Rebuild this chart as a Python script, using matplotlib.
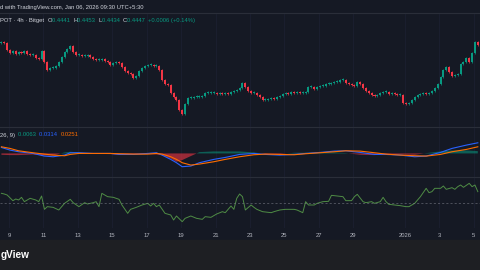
"""TradingView tarzı 4 saatlik mum grafiği + MACD + RSI (kırpılmış ekran görüntüsü)."""

import matplotlib

matplotlib.use("Agg")

import matplotlib.pyplot as plt
import numpy as np
import pandas as pd

plt.rcParams["font.family"] = ["Liberation Sans", "DejaVu Sans"]

# --- veriler ----------------------------------------------------------------
START = pd.Timestamp("2025-12-08 13:30")  # ilk mumun açılış zamanı (UTC+5:30)
BAR_HOURS = 4

first_open = 0.447
closes = [
    0.448, 0.447, 0.440, 0.437, 0.439, 0.436, 0.438, 0.437, 0.439, 0.436,
    0.435, 0.435, 0.432, 0.431, 0.439, 0.428, 0.420, 0.422, 0.422, 0.424,
    0.428, 0.433, 0.438, 0.441, 0.444, 0.438, 0.435, 0.435, 0.434, 0.434,
    0.435, 0.433, 0.431, 0.430, 0.430, 0.431, 0.429, 0.428, 0.425, 0.427,
    0.428, 0.427, 0.423, 0.419, 0.417, 0.416, 0.412, 0.414, 0.419, 0.422,
    0.424, 0.425, 0.425, 0.424, 0.424, 0.420, 0.410, 0.406, 0.405, 0.397,
    0.393, 0.390, 0.380, 0.376, 0.386, 0.392, 0.392, 0.393, 0.393, 0.393,
    0.394, 0.397, 0.397, 0.397, 0.397, 0.396, 0.397, 0.396, 0.397, 0.396,
    0.398, 0.399, 0.400, 0.402, 0.407, 0.403, 0.399, 0.397, 0.397, 0.395,
    0.393, 0.390, 0.390, 0.391, 0.392, 0.391, 0.393, 0.394, 0.396, 0.397,
    0.396, 0.398, 0.397, 0.398, 0.397, 0.397, 0.398, 0.403, 0.403, 0.401,
    0.403, 0.404, 0.404, 0.406, 0.406, 0.407, 0.408, 0.408, 0.410, 0.410,
    0.407, 0.406, 0.405, 0.404, 0.408, 0.406, 0.402, 0.399, 0.397, 0.395,
    0.394, 0.395, 0.397, 0.398, 0.398, 0.396, 0.397, 0.396, 0.395, 0.395,
    0.387, 0.386, 0.387, 0.390, 0.393, 0.395, 0.396, 0.397, 0.396, 0.397,
    0.399, 0.402, 0.406, 0.413, 0.420, 0.423, 0.418, 0.414, 0.415, 0.416,
    0.426, 0.428, 0.432, 0.428, 0.437, 0.448, 0.445,
]

# MACD (12, 26, 9): okunan örnek noktalar (mum indeksi)
macd_idx = [0, 3, 6, 11, 15, 18, 22, 24, 27, 32, 38, 41, 46, 51, 54, 56, 59, 61,
            63, 66, 69, 74, 78, 83, 88, 92, 97, 102, 106, 111, 116, 120, 125, 130,
            134, 139, 144, 148, 153, 157, 162, 166]
macd_line = [0.0167, 0.0093, 0.0047, 0.0, -0.0074, -0.0093, -0.0047, 0.0019,
             0.0019, 0.0, 0.0, -0.0028, -0.0028, 0.0, 0.0019, -0.0047, -0.0167,
             -0.0260, -0.0372, -0.0353, -0.0260, -0.0167, -0.0112, -0.0028, 0.0,
             -0.0028, -0.0047, -0.0028, 0.0, 0.0028, 0.0065, 0.0074, 0.0028,
             -0.0028, -0.0028, -0.0047, -0.0093, -0.0074, 0.0028, 0.0140, 0.0233,
             0.0298]
signal_line = [0.0186, 0.0140, 0.0074, 0.0019, -0.0019, -0.0047, -0.0065, -0.0028,
               0.0, 0.0, 0.0, -0.0009, -0.0019, -0.0019, 0.0, -0.0019, -0.0093,
               -0.0167, -0.0260, -0.0326, -0.0298, -0.0233, -0.0167, -0.0093,
               -0.0037, -0.0019, -0.0028, -0.0037, -0.0009, 0.0019, 0.0047, 0.0074,
               0.0065, 0.0019, -0.0019, -0.0047, -0.0065, -0.0074, -0.0028, 0.0047,
               0.0112, 0.0186]
macd_hist = [-0.0037, -0.0047, -0.0047, -0.0028, -0.0056, -0.0056, 0.0028, 0.0047,
             0.0028, -0.0009, -0.0019, -0.0028, -0.0028, -0.0019, -0.0028, -0.0047,
             -0.0140, -0.0233, -0.0186, -0.0074, 0.0037, 0.0056, 0.0056, 0.0056,
             0.0028, -0.0019, -0.0019, 0.0019, 0.0019, 0.0019, 0.0028, 0.0009,
             -0.0037, -0.0047, -0.0028, -0.0028, -0.0037, 0.0009, 0.0056, 0.0084,
             0.0084, 0.0065]

# RSI: okunan örnek noktalar (mum indeksi)
rsi_idx = [0, 1, 2, 4, 5, 6, 7, 8, 10, 12, 13, 14, 15, 16, 18, 20, 21, 22, 24, 25,
           27, 29, 30, 32, 33, 34, 35, 37, 39, 41, 42, 44, 45, 47, 49, 51, 52, 53,
           54, 55, 57, 59, 60, 61, 63, 64, 66, 68, 70, 71, 73, 75, 77, 78, 80, 81,
           82, 83, 84, 85, 87, 88, 89, 91, 94, 95, 97, 99, 102, 103, 105, 106, 107,
           109, 110, 112, 114, 115, 117, 119, 120, 122, 123, 124, 126, 127, 129,
           130, 132, 133, 134, 135, 137, 139, 141, 142, 144, 146, 148, 149, 150,
           151, 153, 154, 155, 157, 158, 159, 160, 161, 163, 164, 165, 166]
rsi_vals = [64.5, 63.5, 62, 53.5, 56, 54.5, 58.5, 52, 57, 54.5, 52, 60.5, 40.5, 44.5,
            43.5, 39.5, 44.5, 49.5, 55.5, 50.5, 44.5, 50.5, 48.5, 50.5, 52, 44.5,
            64.5, 59.5, 58.5, 55.5, 47, 34.5, 40.5, 43.5, 47, 49.5, 45.5, 49.5, 44.5,
            47, 34.5, 32, 24.5, 30.5, 22, 27, 30.5, 27, 25.5, 29.5, 28.5, 33.5, 37,
            35.5, 45.5, 40.5, 57, 63.5, 59.5, 39.5, 47, 43.5, 40.5, 37, 35.5, 37,
            39.5, 40.5, 40.5, 39.5, 35.5, 52, 47, 47, 49.5, 52, 52.5, 61.5, 60.5,
            59.5, 53.5, 53.5, 59.5, 63, 52, 50.5, 52, 49.5, 52, 58.5, 52, 48, 47, 46,
            44.5, 44.5, 49.5, 59.5, 72, 65.5, 67, 72, 72, 75.5, 70.5, 73, 70.5, 74.5,
            77, 73.5, 79.5, 74.5, 77, 67]

tick_dates = ["2025-12-09", "2025-12-11", "2025-12-13", "2025-12-15", "2025-12-17",
              "2025-12-19", "2025-12-21", "2025-12-23", "2025-12-25", "2025-12-27",
              "2025-12-29", "2026-01-01", "2026-01-03", "2026-01-05"]
tick_labels = ["9", "11", "13", "15", "17", "19", "21", "23", "25", "27", "29",
               "2026", "3", "5"]

# --- stil --------------------------------------------------------------------
BG = "#151924"
FOOTER_BG = "#1e1f23"
SEP = "#2a2e39"
GRID = "#1c2030"
TEXT = "#d1d4dc"
AXIS_TEXT = "#b2b5be"
UP = "#089981"
DOWN = "#f23645"
BLUE = "#2962ff"
ORANGE = "#ff6d00"
RSI_COLOR = "#4f8c45"
W, H = 480, 270
FS = 4.2


def fy(py):
    """Piksel y -> figür koordinatı."""
    return 1 - py / H


def put_segments(fig, x_px, y_px, segments, size=FS):
    """Renkli metin parçalarını yan yana dizer."""
    renderer = fig.canvas.get_renderer()
    x = x_px / W
    for text, color in segments:
        t = fig.text(x, fy(y_px), text, color=color, fontsize=size, va="center", ha="left")
        bb = t.get_window_extent(renderer=renderer)
        x += bb.width / W


fig = plt.figure(figsize=(4.8, 2.7), dpi=100, facecolor=BG)

ax_price = fig.add_axes([0, fy(127), 1, fy(13) - fy(127)])
ax_macd = fig.add_axes([0, fy(177), 1, fy(127) - fy(177)], sharex=ax_price)
ax_rsi = fig.add_axes([0, fy(228), 1, fy(177) - fy(228)], sharex=ax_price)

tick_pos = [(pd.Timestamp(d) - START) / pd.Timedelta(hours=BAR_HOURS) for d in tick_dates]

for ax in (ax_price, ax_macd, ax_rsi):
    ax.set_facecolor(BG)
    for side in ("left", "right", "bottom"):
        ax.spines[side].set_visible(False)
    ax.spines["top"].set_color(SEP)
    ax.spines["top"].set_linewidth(0.8)
    ax.set_yticks([])
    for p in tick_pos:
        ax.axvline(p, color=GRID, lw=0.6, zorder=0)
ax_price.spines["top"].set_visible(False)

# --- mumlar ---------------------------------------------------------------------
closes_arr = np.array(closes)
opens_arr = np.concatenate([[first_open], closes_arr[:-1]])
idx = np.arange(len(closes_arr))
up = closes_arr >= opens_arr
colors = np.where(up, UP, DOWN)
body_lo = np.minimum(opens_arr, closes_arr)
body_h = np.maximum(np.abs(closes_arr - opens_arr), 0.0006)
ax_price.vlines(idx, body_lo - 0.0012, body_lo + body_h + 0.0012, colors=colors, lw=0.5)
ax_price.bar(idx, body_h, bottom=body_lo, width=0.7, color=colors, linewidth=0)
ax_price.set_ylim(0.363, 0.477)
ax_price.set_xlim(-0.49, 166.76)

# --- MACD --------------------------------------------------------------------------
hist = np.array(macd_hist)
ax_macd.fill_between(macd_idx, 0, hist, where=hist >= 0, color=UP, alpha=0.55,
                     interpolate=True, lw=0)
ax_macd.fill_between(macd_idx, 0, hist, where=hist < 0, color=DOWN, alpha=0.6,
                     interpolate=True, lw=0)
ax_macd.plot(macd_idx, macd_line, color=BLUE, lw=0.8)
ax_macd.plot(macd_idx, signal_line, color=ORANGE, lw=0.8)
ax_macd.set_ylim(-0.066, 0.074)

# --- RSI ---------------------------------------------------------------------------
ax_rsi.plot(rsi_idx, rsi_vals, color=RSI_COLOR, lw=0.7)
ax_rsi.axhline(50, color="#787b86", lw=0.5, ls=(0, (3, 3)), alpha=0.8)
ax_rsi.set_ylim(12.5, 89)

ax_rsi.set_xticks(tick_pos)
ax_rsi.set_xticklabels(tick_labels)
ax_rsi.tick_params(axis="x", length=0, pad=3.5, labelsize=FS, labelcolor=AXIS_TEXT)
for ax in (ax_price, ax_macd):
    ax.tick_params(axis="x", length=0, labelbottom=False)

# --- alt bant ve metinler -----------------------------------------------------------
fig.patches.append(plt.Rectangle((0, 0), 1, fy(240), transform=fig.transFigure,
                                 color=FOOTER_BG, zorder=-1))
fig.add_artist(plt.Line2D([0, 1], [fy(12.5), fy(12.5)], color=SEP, lw=0.8))
fig.text(1 / W, fy(255), "gView", color="#ffffff", fontsize=7.2,
         fontweight="bold", ha="left", va="center")

fig.text(0, fy(7), "d with TradingView.com, Jan 06, 2026 09:30 UTC+5:30",
         color=TEXT, fontsize=FS, va="center", ha="left")

put_segments(fig, 0, 21, [
    ("POT · 4h · Bitget  ", TEXT),
    ("O", TEXT), ("0.4441  ", UP),
    ("H", TEXT), ("0.4453  ", UP),
    ("L", TEXT), ("0.4434  ", UP),
    ("C", TEXT), ("0.4447  ", UP),
    ("+0.0006 (+0.14%)", UP),
])
put_segments(fig, 0, 135, [
    ("26, 9)  ", TEXT),
    ("0.0063  ", UP),
    ("0.0314  ", BLUE),
    ("0.0251", ORANGE),
])

fig.savefig("out.png", dpi=100, facecolor=BG)
plt.close(fig)
